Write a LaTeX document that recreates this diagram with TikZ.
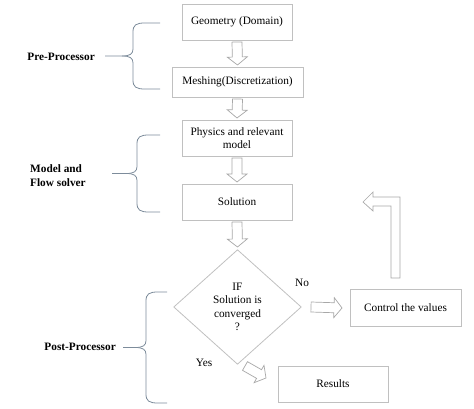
\documentclass[tikz,border=0pt]{standalone}
\usepackage{fontspec}
\setmainfont{Liberation Serif}
\usetikzlibrary{shapes,arrows,positioning,calc}

\definecolor{boxgray}{RGB}{192,192,192}
\definecolor{arrgray}{RGB}{168,168,168}
\definecolor{bracegray}{RGB}{125,140,155}

% hollow block arrow from #1 to #2
\newcommand{\fatarrow}[2]{%
  \draw[fat] ($#1!5pt!90:#2$) -- ($#2!8pt!#1!5pt!-90:#1$) -- ($#2!8pt!#1!10pt!-90:#1$)
    -- #2 -- ($#2!8pt!#1!10pt!90:#1$) -- ($#2!8pt!#1!5pt!90:#1$) -- ($#1!5pt!-90:#2$) -- cycle;}

% left brace: #1 end x, #2 spine x, #3 tail x, #4 top y, #5 bottom y
\newcommand{\sidebrace}[5]{%
  \pgfmathsetmacro{\bmid}{(#4+#5)/2}
  \draw[brace] (#1,#4) -- (#2+12,#4) .. controls (#2+3,#4) and (#2,#4+2) .. (#2,#4+9)
    -- (#2,\bmid-7) .. controls (#2,\bmid-2) and (#2-3,\bmid) .. (#2-11,\bmid) -- (#3,\bmid);
  \draw[brace] (#1,#5) -- (#2+12,#5) .. controls (#2+3,#5) and (#2,#5-2) .. (#2,#5-9)
    -- (#2,\bmid+7) .. controls (#2,\bmid+2) and (#2-3,\bmid) .. (#2-11,\bmid);}

\begin{document}
\begin{tikzpicture}[x=1pt,y=-1pt,
  font=\fontsize{11.3}{13.5}\selectfont,
  box/.style={draw=boxgray,line width=0.8pt,minimum width=110pt,minimum height=36pt,
    inner sep=1pt,align=center,outer sep=2pt},
  fat/.style={draw=arrgray,line width=0.7pt,fill=white},
  brace/.style={draw=bracegray,line width=0.8pt},
  lab/.style={font=\fontsize{11.3}{14}\selectfont\bfseries,inner sep=0pt,align=left}]
  \useasboundingbox (0,0) rectangle (474,409);

  % Process boxes
  \node[box] (geo) at (237,22) {Geometry (Domain)};
  \node[box,minimum width=131pt,minimum height=30pt] (mesh) at (237.5,82) {Meshing(Discretization)};
  \node[box] (phys) at (237,138) {Physics and relevant\\model};
  \node[box] (sol) at (237,202) {Solution};
  \node[box,diamond,minimum width=129pt,minimum height=116pt,inner sep=0pt] (dec) at (237.5,307)
    {IF\\Solution is\\converged\\?};
  \node[box,minimum width=111pt,minimum height=37pt] (ctrl) at (405.5,308) {Control the values};
  \node[box] (res) at (333,384) {Results};

  % Downward arrows
  \foreach \a/\b in {geo/mesh,mesh/phys,phys/sol,sol/dec}
    \fatarrow{(\a.south)}{(\b.north)};

  % No / Yes branches
  \coordinate (noA) at ([xshift=7pt]dec.east);
  \coordinate (noB) at ([xshift=-6pt]ctrl.west);
  \fatarrow{(noA)}{(noB)};
  \node[inner sep=0pt] (no) at (302,283) {No};

  \coordinate (yesA) at (245,366);
  \coordinate (yesB) at (266,378);
  \fatarrow{(yesA)}{(yesB)};
  \node[inner sep=0pt] (yes) at (204,363) {Yes};

  % Loop back
  \coordinate (loopS) at (395.5,278);
  \draw[fat] ([xshift=-4.5pt]loopS) -- ++(9,0) -- ++(0,-81) -- ++(-27,0) -- ++(0,-5)
    -- ++(-10,10) -- ++(10,9) -- ++(0,-5) -- ++(18,0) -- cycle;

  % Braces and stage labels
  \sidebrace{160}{133}{105}{23}{89}
  \sidebrace{160}{137}{112}{135}{212}
  \sidebrace{167}{146}{123}{292}{403}
  \node[lab,anchor=east] (pre) at (95,57) {Pre-Processor};
  \node[lab,anchor=west] (model) at (30,176) {Model and\\Flow solver};
  \node[lab,anchor=east] (post) at (116,347) {Post-Processor};
\end{tikzpicture}
\end{document}
